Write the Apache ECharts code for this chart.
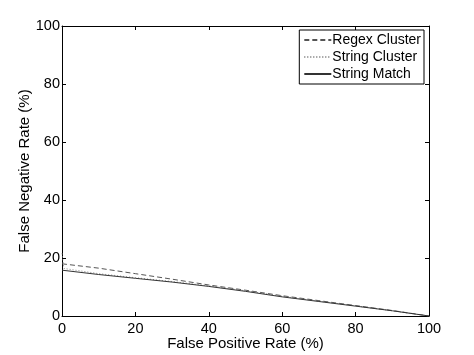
<!DOCTYPE html>
<html><head><meta charset="utf-8">
<script src="https://cdn.jsdelivr.net/npm/echarts@6/dist/echarts.min.js"></script>
<style>html,body{margin:0;padding:0;background:#fff}#c{width:474px;height:355px}</style>
</head><body><div id="c"></div>
<script>
var seriesNames = ["Regex Cluster", "String Cluster", "String Match"];
var fpr = [0, 10, 20, 30, 40, 50, 60, 70, 80, 90, 100];
var regexCluster = [18.0, 16.5, 14.6, 12.7, 10.7, 8.9, 7.0, 5.3, 3.6, 1.9, 0];
var stringCluster = [16.4, 14.6, 13.2, 11.9, 10.4, 8.7, 6.8, 5.1, 3.5, 1.8, 0];
var stringMatch = [15.8, 14.3, 13.0, 11.7, 10.2, 8.5, 6.6, 5.0, 3.4, 1.8, 0];
var spikeX = [0, 0.5];
var spikeY = [21.6, 16.4];
var xTicks = [0, 20, 40, 60, 80, 100];
var yTicks = [0, 20, 40, 60, 80, 100];

function pairs(xs, ys) { return xs.map(function (x, i) { return [x, ys[i]]; }); }
var stringClusterData = pairs(spikeX, spikeY).concat(pairs(fpr, stringCluster).slice(1));

var font = 'Liberation Sans, Arial, Helvetica, sans-serif';
var chart = echarts.init(document.getElementById('c'), null, {renderer: 'canvas'});
var axisCommon = {
  type: 'value', min: 0, max: 100, interval: 20,
  splitLine: {show: false},
  axisLine: {show: true, onZero: false, lineStyle: {color: '#000', width: 1}},
  axisTick: {show: true, inside: true, length: 4, lineStyle: {color: '#000'}}
};
chart.setOption({
  animation: false,
  backgroundColor: '#fff',
  grid: {left: 62, right: 45, top: 26, bottom: 39, containLabel: false, outerBoundsMode: 'none'},
  legend: {
    orient: 'vertical', right: 50, top: 30,
    data: seriesNames,
    backgroundColor: '#fff', borderColor: '#000', borderWidth: 1,
    padding: [3, 3, 3, 4], itemGap: 3, itemWidth: 27, itemHeight: 14,
    itemStyle: {opacity: 0},
    textStyle: {fontFamily: font, fontSize: 14, color: '#000', padding: [0, 0, 0, -4]}
  },
  xAxis: [
    Object.assign({}, axisCommon, {
      position: 'bottom', name: 'False Positive Rate (%)', nameLocation: 'middle', nameGap: 20,
      nameMoveOverlap: false,
      nameTextStyle: {fontFamily: font, fontSize: 15, color: '#000'},
      axisLabel: {fontFamily: font, fontSize: 14.5, color: '#000', margin: 5,
        formatter: function (v) { return xTicks.indexOf(v) >= 0 ? String(v) : ''; }}
    }),
    Object.assign({}, axisCommon, {position: 'top', axisLabel: {show: false}})
  ],
  yAxis: [
    Object.assign({}, axisCommon, {
      position: 'left', name: 'False Negative Rate (%)', nameLocation: 'middle', nameGap: 30,
      nameMoveOverlap: false,
      nameTextStyle: {fontFamily: font, fontSize: 15, color: '#000'},
      axisLabel: {fontFamily: font, fontSize: 14.5, color: '#000', margin: 2,
        formatter: function (v) { return yTicks.indexOf(v) >= 0 ? String(v) : ''; }}
    }),
    Object.assign({}, axisCommon, {position: 'right', axisLabel: {show: false}})
  ],
  series: [
    {name: seriesNames[0], type: 'line', symbol: 'none', data: pairs(fpr, regexCluster),
     lineStyle: {color: '#555', width: 1, type: [5, 3]}, itemStyle: {color: '#555'}},
    {name: seriesNames[1], type: 'line', symbol: 'none', data: stringClusterData,
     lineStyle: {color: '#888', width: 1, type: [1, 2]}, itemStyle: {color: '#888'}},
    {name: seriesNames[2], type: 'line', symbol: 'none', data: pairs(fpr, stringMatch),
     lineStyle: {color: '#333', width: 1, type: 'solid'}, itemStyle: {color: '#333'}}
  ]
});
</script></body></html>
